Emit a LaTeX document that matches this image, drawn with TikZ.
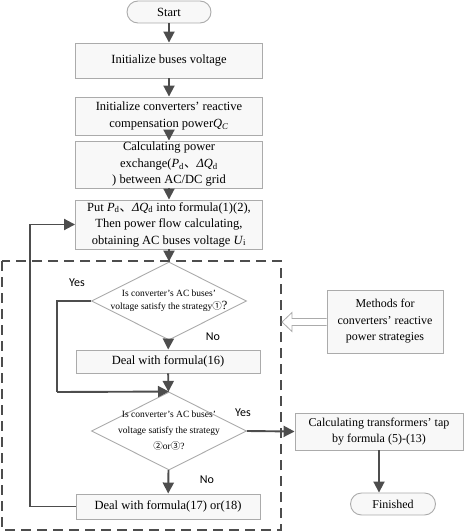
\documentclass[tikz,border=0pt]{standalone}
\usepackage{fontspec}
\setmainfont{Liberation Serif}
\newfontfamily\cjk{Noto Sans CJK SC}
\newfontfamily\yesfont{Carlito}
\usetikzlibrary{shapes.geometric,arrows.meta}
\definecolor{ln}{HTML}{4D4D4D}
\definecolor{bd}{HTML}{ABABAB}
\definecolor{bf}{HTML}{F8F8F8}
\tikzset{
  box/.style={draw=bd, fill=bf, line width=0.9pt, minimum width=187pt, inner sep=0pt, align=center, font=\fontsize{12.5}{16.5}\selectfont},
  term/.style={box, rounded corners=11pt, minimum width=84pt, minimum height=22pt},
  dia/.style={diamond, draw=bd, fill=white, line width=0.9pt, inner sep=0pt, minimum width=155pt, minimum height=78pt},
  diatext/.style={align=center, inner sep=0pt},
  flow/.style={draw=ln, line width=1.9pt, -{Triangle[length=11pt,width=11pt]}},
  plain/.style={draw=ln, line width=1.9pt},
  yn/.style={font=\yesfont\fontsize{12}{13}\selectfont, text=black},
  dframe/.style={draw=ln, line width=2pt, dash pattern=on 10pt off 6pt},
  hollow/.style={draw=bd, fill=white, line width=0.8pt},
}
\begin{document}
\begin{tikzpicture}[x=1pt,y=1pt]
\useasboundingbox (0,0) rectangle (474,-532);
\node[term] (start) at (169,-12) {Start};
\node[box, minimum height=35pt] (b1) at (169,-60.5) {Initialize buses voltage};
\node[box, minimum height=38pt] (b2) at (169,-116) {Initialize converters’ reactive\\compensation power\textit{Q}\textsubscript{\textit{C}}};
\node[box, minimum height=47pt] (b3) at (169,-164.5) {Calculating power\\exchange(\textit{P}\textsubscript{d}{\cjk 、}\textit{ΔQ}\textsubscript{d}\\) between AC/DC grid};
\node[box, minimum height=49pt] (b4) at (169,-224.5) {Put \textit{P}\textsubscript{d}{\cjk 、}\textit{ΔQ}\textsubscript{d} into formula(1)(2),\\Then power flow calculating,\\obtaining AC buses voltage \textit{U}\textsubscript{i}};
\draw[dframe] (2,-261) rectangle (281,-530);
\node[dia] (d1) at (169,-301) {};
\node[diatext, font=\fontsize{9.5}{13}\selectfont] (d1t) at (d1.center) {Is converter’s AC buses’\\voltage satisfy the strategy{\cjk ①}{\fontsize{12.5}{13}\selectfont ?}};
\node[box, minimum width=184pt, minimum height=23pt] (d16) at (168,-361.5) {Deal with formula(16)};
\node[dia] (d2) at (169,-431) {};
\node[diatext, font=\fontsize{9.5}{16}\selectfont] (d2t) at (d2.center) {Is converter’s AC buses’\\voltage satisfy the strategy\\{\cjk ②}or{\cjk ③}?};
\node[box, minimum width=184pt, minimum height=25pt] (d17) at (168,-506.5) {Deal with formula(17) or(18)};
\node[box, font=\fontsize{12}{16.5}\selectfont, minimum width=168pt, minimum height=37pt] (calc) at (379,-431.5) {Calculating transformers’ tap\\by formula (5)-(13)};
\node[term, font=\fontsize{12}{16.5}\selectfont, minimum width=85pt] (fin) at (393,-504) {Finished};
\node[box, font=\fontsize{12}{16.5}\selectfont, minimum width=116pt, minimum height=63pt] (meth) at (385,-321.5) {Methods for\\converters’ reactive\\power strategies};
\node[yn] (yes1) at (77,-283) {Yes};
\node[yn] (no1) at (213,-337) {No};
\node[yn] (yes2) at (243,-413) {Yes};
\node[yn] (no2) at (207,-480) {No};
\draw[flow] (start) -- (b1);
\draw[flow] (b1) -- (b2);
\draw[flow] (b2) -- (b3);
\draw[flow] (b3) -- (b4);
\draw[flow] (b4) -- (d1);
\draw[flow] (d1) -- (d16);
\draw[flow] (d16) -- (d2);
\draw[flow] (d2) -- (d17);
\draw[flow] (d2.east) -- (calc.west);
\draw[flow] (calc.south) -- (calc.south |- fin.north);
\coordinate (yc) at (57,-392);
\draw[plain] (d1.west) -| (yc);
\draw[flow] (yc) -- (d2.north);
\coordinate (fb1) at (30,-506.5);
\coordinate (fb2) at (30,-224.5);
\draw[flow] (d17.west) -- (fb1) -- (fb2) -- (b4.west);
\draw[hollow] (meth.west |- 0,-318.5) -- (292,-318.5) -- (292,-312.5) -- (282,-322) -- (292,-331.5) -- (292,-325.5) -- (meth.west |- 0,-325.5);
\end{tikzpicture}
\end{document}
